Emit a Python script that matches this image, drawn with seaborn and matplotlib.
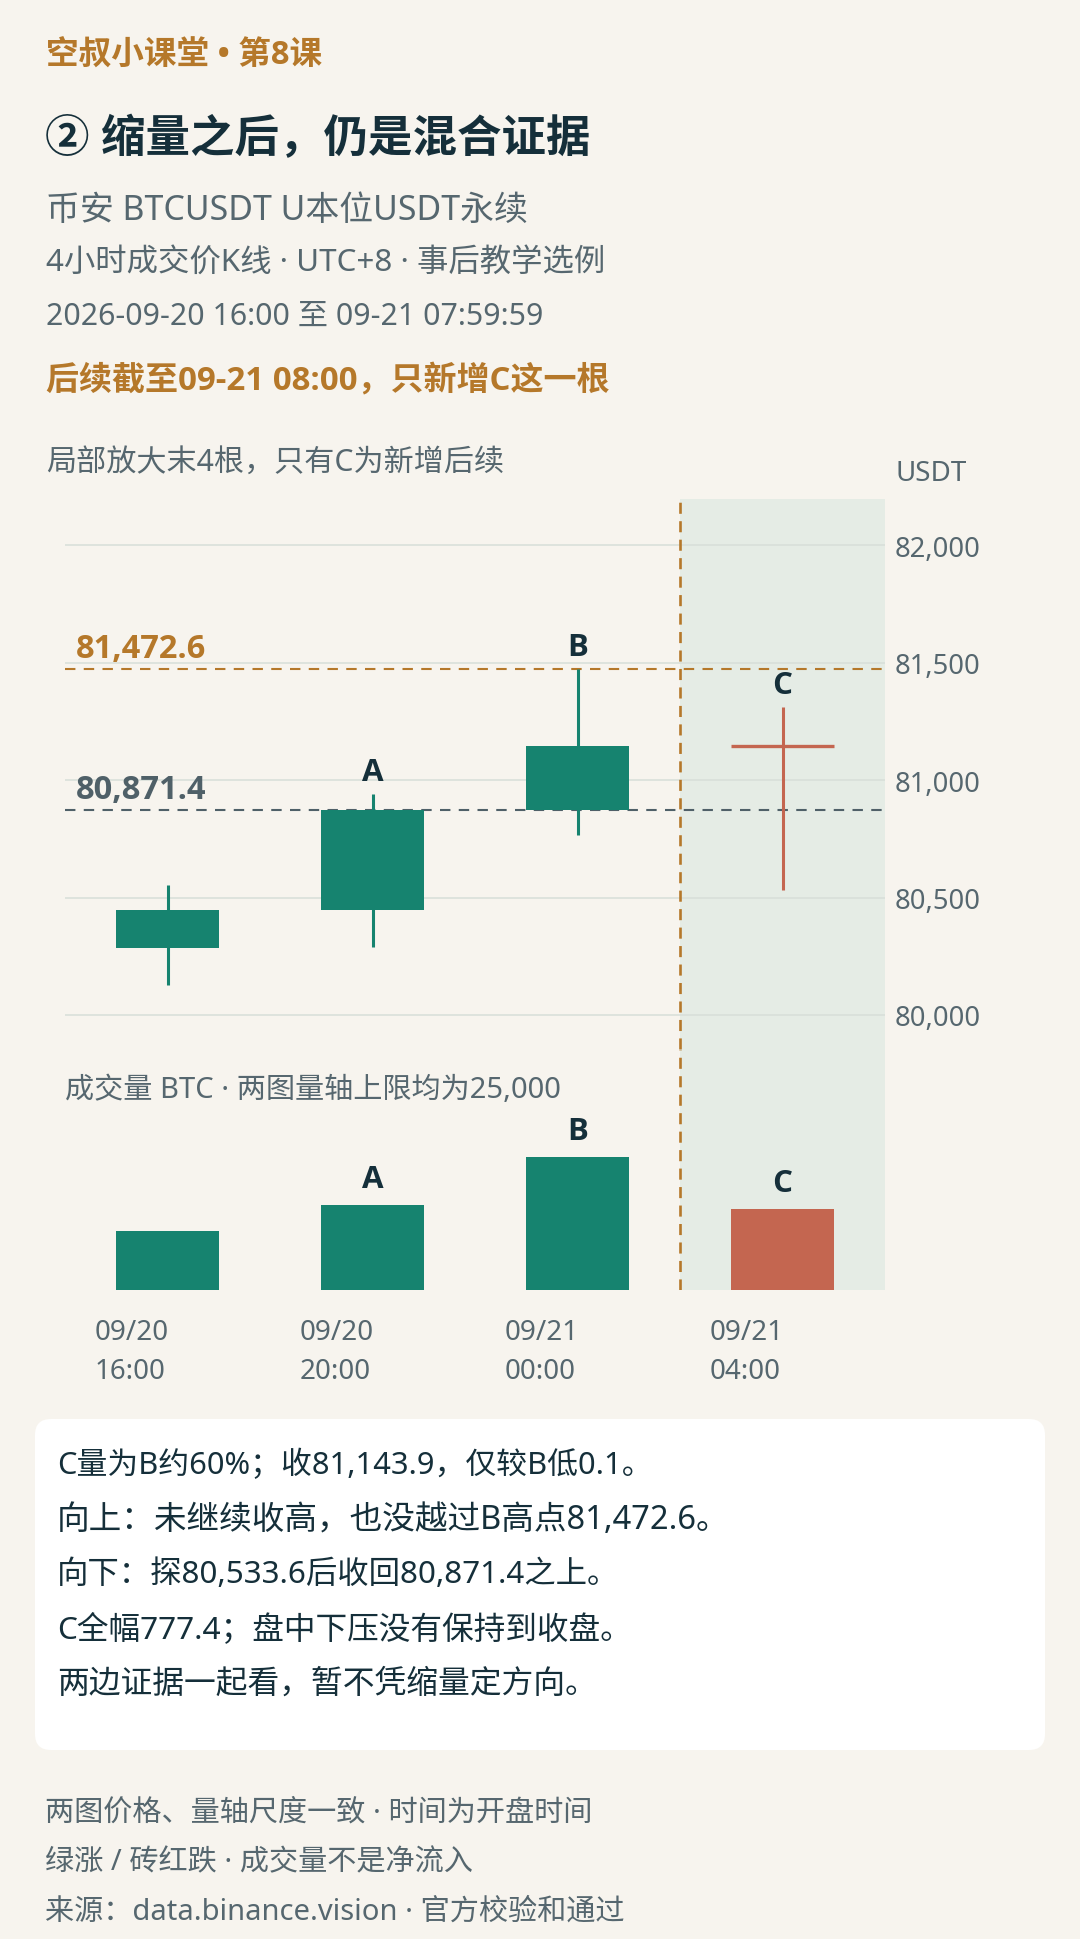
import numpy as np
import seaborn as sns
import matplotlib.pyplot as plt
from matplotlib.patches import FancyBboxPatch
from matplotlib.ticker import FuncFormatter

BG = '#f7f4ee'
GREEN = '#16836f'
RED = '#c46650'
ORANGE = '#b5782a'
DARK = '#152f3a'
GRAY = '#56676f'
SLATE = '#4f6068'
SHADE = '#e5ece5'
GRID = '#d7ded8'

# 4h candles (last 4), C is the new one
slots = ['09/20 16:00', '09/20 20:00', '09/21 00:00', '09/21 04:00']
date_labels = ['09/20', '09/20', '09/21', '09/21']
time_labels = ['16:00', '20:00', '00:00', '04:00']
marks = ['', 'A', 'B', 'C']
opens = [80284.0, 80448.0, 80871.5, 81144.0]
highs = [80554.0, 80940.0, 81472.6, 81311.0]
lows = [80126.0, 80288.0, 80767.0, 80533.6]
closes = [80448.0, 80871.4, 81144.0, 81143.9]
volumes = [6100, 8800, 13800, 8400]
price_ticks = [80000, 80500, 81000, 81500, 82000]
b_high = 81472.6
a_close = 80871.4
vol_cap = 25000

note_lines = [
    'C量为B约60%；收81,143.9，仅较B低0.1。',
    '向上：未继续收高，也没越过B高点81,472.6。',
    '向下：探80,533.6后收回80,871.4之上。',
    'C全幅777.4；盘中下压没有保持到收盘。',
    '两边证据一起看，暂不凭缩量定方向。',
]
note_sizes = [22.2, 23.5, 22.6, 22.8, 22.9]
foot_lines = [
    '两图价格、量轴尺度一致 · 时间为开盘时间',
    '绿涨 / 砖红跌 · 成交量不是净流入',
    '来源：data.binance.vision · 官方校验和通过',
]

sns.set_theme(style='white')
plt.rcParams['font.family'] = ['Noto Sans', 'Noto Sans CJK SC', 'DejaVu Sans']
plt.rcParams['axes.unicode_minus'] = False
BOLD = dict(family=['Open Sans', 'Noto Sans CJK SC', 'DejaVu Sans'], fontweight='bold')

W, H = 1080, 1940
fig = plt.figure(figsize=(W / 100, H / 100), dpi=100, facecolor=BG)


def frac(x0, y0, x1, y1):
    # pixel box (top-left origin) -> figure fraction rect
    return [x0 / W, 1 - y1 / H, (x1 - x0) / W, (y1 - y0) / H]


# background / text layer in pixel units
ax_bg = fig.add_axes([0, 0, 1, 1])
ax_bg.set_xlim(0, W)
ax_bg.set_ylim(H, 0)
ax_bg.axis('off')
ax_bg.set_zorder(0)

ax_p = fig.add_axes(frac(65, 500, 885, 1050))
ax_v = fig.add_axes(frac(65, 1050, 885, 1291))
for ax in (ax_p, ax_v):
    ax.set_zorder(1)
    ax.set_facecolor('none')
    for s in ax.spines.values():
        s.set_visible(False)

# ---- header texts
ax_bg.text(46, 65, '空叔小课堂 • 第8课', fontsize=23.5, color=ORANGE, va='baseline', **BOLD)
ax_bg.text(45, 152, '② 缩量之后，仍是混合证据', fontsize=32, color=DARK, va='baseline', **BOLD)
ax_bg.text(46, 220, '币安 BTCUSDT U本位USDT永续', fontsize=24.4, color=GRAY, va='baseline')
ax_bg.text(46, 271, '4小时成交价K线 · UTC+8 · 事后教学选例', fontsize=22.6, color=GRAY, va='baseline')
ax_bg.text(46, 325, '2026-09-20 16:00 至 09-21 07:59:59', fontsize=21.8, color=GRAY, va='baseline')
ax_bg.text(46, 390, '后续截至09-21 08:00，只新增C这一根', fontsize=23.8, color=ORANGE, va='baseline', **BOLD)
ax_bg.text(46, 471, '局部放大末4根，只有C为新增后续', fontsize=21.7, color=GRAY, va='baseline')
ax_bg.text(895, 481, 'USDT', fontsize=20, color=GRAY, va='baseline')
ax_bg.text(65, 1098, '成交量 BTC · 两图量轴上限均为25,000', fontsize=21, color=GRAY, va='baseline')

# ---- price panel
x = np.arange(len(slots))
cols = [GREEN if c >= o else RED for o, c in zip(opens, closes)]
ax_p.axvspan(2.5, 3.5, color=SHADE, lw=0, zorder=0)
ax_p.set_axisbelow(True)
ax_p.grid(axis='y', color=GRID, lw=1.1)
ax_p.grid(axis='x', visible=False)

ax_p.axhline(b_high, color=ORANGE, lw=1.5, ls=(0, (5, 4)), zorder=2)
ax_p.axhline(a_close, color=SLATE, lw=1.5, ls=(0, (5, 4)), zorder=2)
ax_p.axvline(2.5, color=ORANGE, lw=1.9, ls=(0, (4.2, 2.8)), zorder=2)

ax_p.vlines(x, lows, highs, colors=cols, lw=2.2, zorder=3)
body_lo = np.minimum(opens, closes)
body_h = np.abs(np.array(closes) - np.array(opens))
ax_p.bar(x, body_h, bottom=body_lo, width=0.5, color=cols, lw=0, zorder=3)
for i in range(len(x)):
    if body_h[i] < 5:
        ax_p.hlines(closes[i], x[i] - 0.25, x[i] + 0.25, color=cols[i], lw=2.4, zorder=3)
    if marks[i]:
        ax_p.annotate(marks[i], (x[i], highs[i]), xytext=(0, 16), textcoords='offset points',
                      ha='center', va='center', fontsize=22.5, color=DARK, **BOLD)

ax_p.annotate(f'{b_high:,.1f}', (0.013, b_high), xycoords=ax_p.get_yaxis_transform(),
              xytext=(0, 15), textcoords='offset points', ha='left', va='center',
              fontsize=23.5, color=ORANGE, **BOLD)
ax_p.annotate(f'{a_close:,.1f}', (0.013, a_close), xycoords=ax_p.get_yaxis_transform(),
              xytext=(0, 15), textcoords='offset points', ha='left', va='center',
              fontsize=23.5, color=SLATE, **BOLD)

ax_p.set_xlim(-0.5, 3.5)
ax_p.set_ylim(79855, 82198)
ax_p.set_yticks(price_ticks)
ax_p.yaxis.set_major_formatter(FuncFormatter(lambda v, _: f'{v:,.0f}'))
ax_p.yaxis.tick_right()
ax_p.tick_params(axis='y', length=0, pad=7, labelsize=19.7, labelcolor=GRAY)
ax_p.tick_params(axis='x', bottom=False, labelbottom=False)

# ---- volume panel
ax_v.axvspan(2.5, 3.5, color=SHADE, lw=0, zorder=0)
sns.barplot(x=slots, y=volumes, hue=slots, palette=cols, width=0.5, saturation=1,
            legend=False, linewidth=0, ax=ax_v, zorder=2)
ax_v.axvline(2.5, color=ORANGE, lw=1.9, ls=(0, (4.2, 2.8)), zorder=2)
for i in range(len(x)):
    if marks[i]:
        ax_v.annotate(marks[i], (x[i], volumes[i]), xytext=(0, 19), textcoords='offset points',
                      ha='center', va='center', fontsize=22.5, color=DARK, **BOLD)
ax_v.set_xlim(-0.5, 3.5)
ax_v.set_ylim(0, vol_cap)
ax_v.set_xticks([])
ax_v.set_yticks([])
ax_v.set_xlabel('')
ax_v.set_ylabel('')

# time labels under the bars
for i in range(len(x)):
    px = 65 + (x[i] + 0.5) * 205 - 73
    ax_bg.text(px, 1340, date_labels[i], fontsize=20, color=GRAY, va='baseline')
    ax_bg.text(px, 1379, time_labels[i], fontsize=20, color=GRAY, va='baseline')

# ---- note box
ax_bg.add_patch(FancyBboxPatch((35, 1420), 1010, 331, boxstyle='round,pad=0,rounding_size=16',
                               fc='white', ec='none'))
for k, line in enumerate(note_lines):
    ax_bg.text(57, 1474 + k * 54.7, line, fontsize=note_sizes[k], color=DARK, va='baseline')

for k, line in enumerate(foot_lines):
    ax_bg.text(45, 1821 + k * 49.5, line, fontsize=21, color=GRAY, va='baseline')

fig.savefig('out.png', dpi=100, facecolor=BG)
